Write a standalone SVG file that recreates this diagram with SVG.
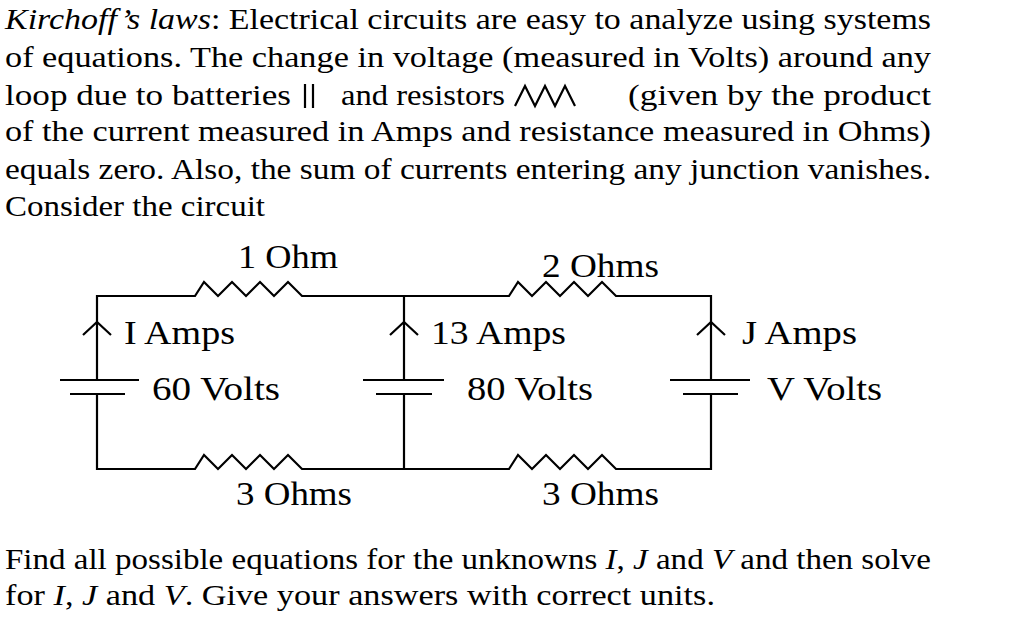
<svg xmlns="http://www.w3.org/2000/svg" width="1024" height="628" viewBox="0 0 1024 628">
<style>
text{font-family:"Liberation Serif","DejaVu Serif",serif;fill:#000}
.b{font-size:29px}
.c{font-size:34px}
.w{fill:none;stroke:#000;stroke-width:2.2}
</style>
<rect width="1024" height="628" fill="#fff"/>
<g id="intro">
<text class="b" x="5" y="29" textLength="926" lengthAdjust="spacingAndGlyphs"><tspan font-style="italic">Kirchoff’s laws</tspan>: Electrical circuits are easy to analyze using systems</text>
<text class="b" x="5" y="67" textLength="926" lengthAdjust="spacingAndGlyphs">of equations. The change in voltage (measured in Volts) around any</text>
<text class="b" x="5" y="105" textLength="286" lengthAdjust="spacingAndGlyphs">loop due to batteries</text>
<text class="b" x="341" y="105" textLength="164" lengthAdjust="spacingAndGlyphs">and resistors</text>
<text class="b" x="628" y="105" textLength="303" lengthAdjust="spacingAndGlyphs">(given by the product</text>
<text class="b" x="5" y="141" textLength="926" lengthAdjust="spacingAndGlyphs">of the current measured in Amps and resistance measured in Ohms)</text>
<text class="b" x="5" y="179" textLength="926" lengthAdjust="spacingAndGlyphs">equals zero. Also, the sum of currents entering any junction vanishes.</text>
<text class="b" x="5" y="216" textLength="260" lengthAdjust="spacingAndGlyphs">Consider the circuit</text>
<path class="w" d="M305 84V108M313 84V108" stroke-width="1.6"/>
<path class="w" d="M515 106L525 86L535 106L545 86L555 106L565 86L575 106" stroke-width="1.6"/>
</g>
<g id="connectors">
<path class="w" d="M97 380V296H195L204 282L218 296L232 282L246 296L260 282L274 296L288 282L302 296H509L518 282L532 296L546 282L560 296L574 282L588 296L602 282L616 296H711V380"/>
<path class="w" d="M97 394V469H195L204 455L218 469L232 455L246 469L260 455L274 469L288 455L302 469H509L518 455L532 469L546 455L560 469L574 455L588 469L602 455L616 469H711V394"/>
<path class="w" d="M404 296V380M404 394V469"/>
</g>
<g id="battery-left">
<path class="w" d="M60 380H139M70 394H125M83 335L97 322L111 335"/>
<text class="c" x="124" y="344" textLength="111" lengthAdjust="spacingAndGlyphs">I Amps</text>
<text class="c" x="152" y="400" textLength="128" lengthAdjust="spacingAndGlyphs">60 Volts</text>
</g>
<g id="battery-mid">
<path class="w" d="M363 380H444M376 394H432M390 335L404 322L418 335"/>
<text class="c" x="431" y="344" textLength="135" lengthAdjust="spacingAndGlyphs">13 Amps</text>
<text class="c" x="467" y="400" textLength="126" lengthAdjust="spacingAndGlyphs">80 Volts</text>
</g>
<g id="battery-right">
<path class="w" d="M670 380H750M683 394H738M697 335L711 322L725 335"/>
<text class="c" x="742" y="344" textLength="115" lengthAdjust="spacingAndGlyphs">J Amps</text>
<text class="c" x="767" y="400" textLength="115" lengthAdjust="spacingAndGlyphs">V Volts</text>
</g>
<g id="resistor-labels">
<text class="c" x="238" y="268" textLength="100" lengthAdjust="spacingAndGlyphs">1 Ohm</text>
<text class="c" x="542" y="277" textLength="117" lengthAdjust="spacingAndGlyphs">2 Ohms</text>
<text class="c" x="236" y="505" textLength="116" lengthAdjust="spacingAndGlyphs">3 Ohms</text>
<text class="c" x="542" y="505" textLength="117" lengthAdjust="spacingAndGlyphs">3 Ohms</text>
</g>
<g id="question">
<text class="b" x="5" y="569" textLength="926" lengthAdjust="spacingAndGlyphs">Find all possible equations for the unknowns <tspan font-style="italic">I</tspan>, <tspan font-style="italic">J</tspan> and <tspan font-style="italic">V</tspan> and then solve</text>
<text class="b" x="5" y="605" textLength="710" lengthAdjust="spacingAndGlyphs">for <tspan font-style="italic">I</tspan>, <tspan font-style="italic">J</tspan> and <tspan font-style="italic">V</tspan>. Give your answers with correct units.</text>
</g>
</svg>
